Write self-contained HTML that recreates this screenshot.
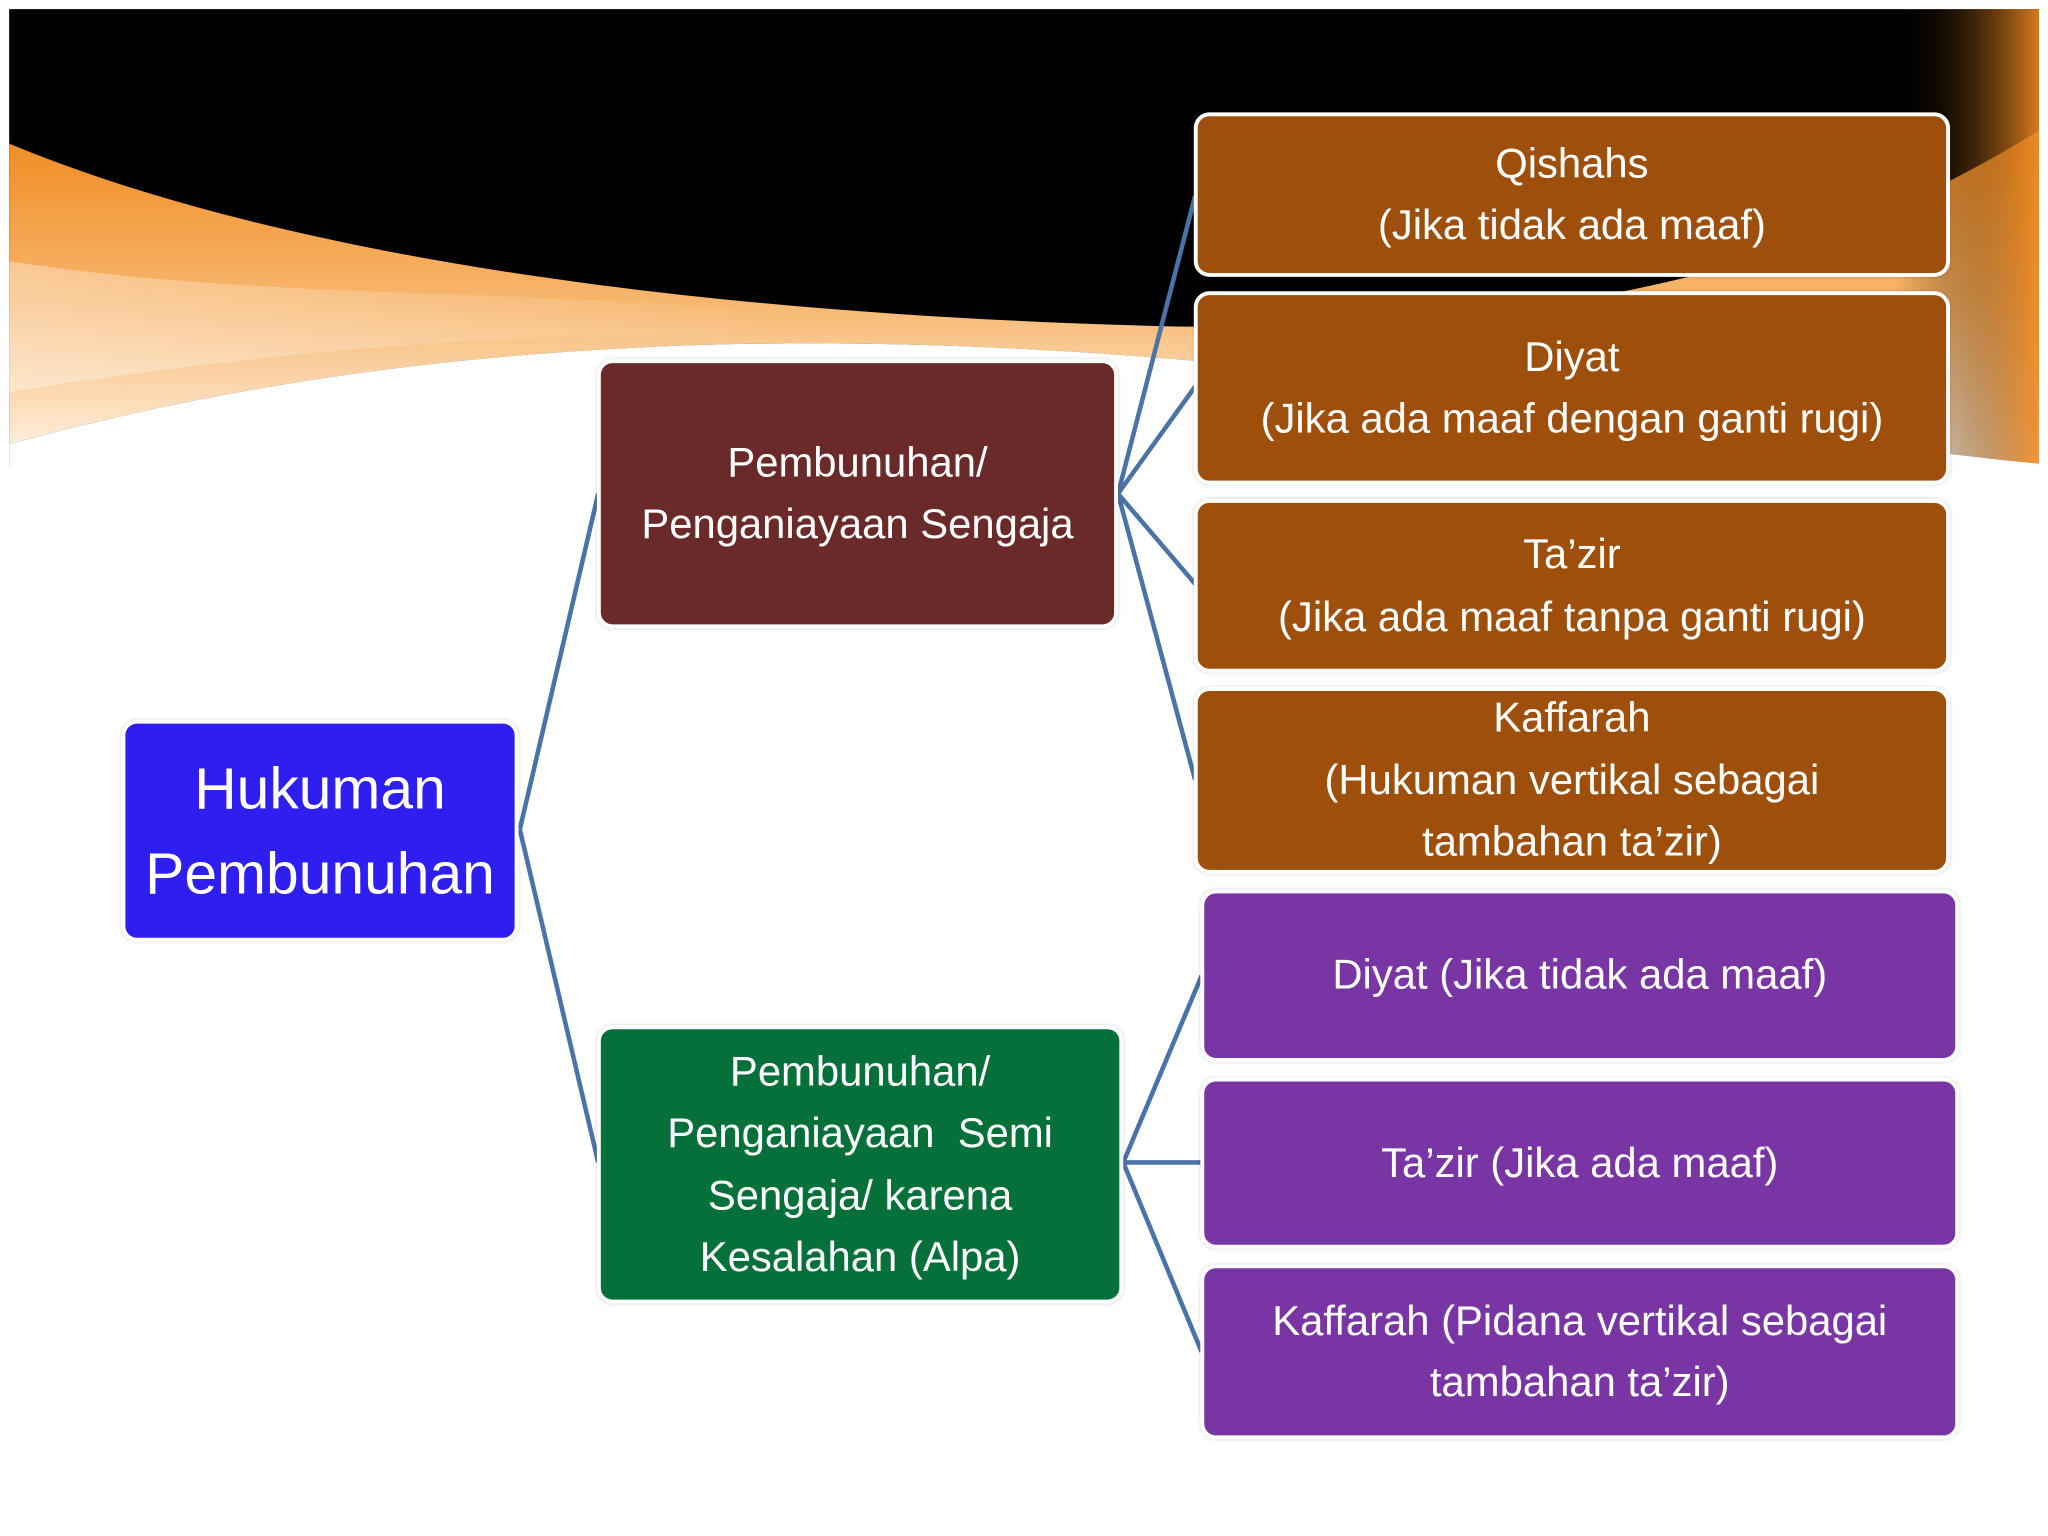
<!DOCTYPE html>
<html><head><meta charset="utf-8"><style>
html,body{margin:0;padding:0;background:#fff;}
#wrap{width:1568px;height:1176px;transform:scale(1.30612);transform-origin:0 0;position:relative;overflow:hidden;background:#fff;font-family:"Liberation Sans",sans-serif;}
.b{position:absolute;color:#fff;display:flex;align-items:center;justify-content:center;text-align:center;border-radius:12px;box-sizing:border-box;border:3px solid #fff;box-shadow:0 0 3px rgba(0,0,0,0.15);line-height:1.48;}
.o{background:#9e4f0c;font-size:32px;}
.p{background:#7a35a5;font-size:32px;}
</style></head><body><div id="wrap">
<svg width="1568" height="1176" style="position:absolute;left:0;top:0">
<defs>
<linearGradient id="g1" x1="0" y1="0" x2="0" y2="1">
<stop offset="0" stop-color="#f08a20"/><stop offset="0.5" stop-color="#f7b56b"/><stop offset="1" stop-color="#fff4e8"/></linearGradient>
<linearGradient id="g2" x1="0" y1="0" x2="1" y2="0">
<stop offset="0" stop-color="#000" stop-opacity="0"/><stop offset="0.7" stop-color="#000" stop-opacity="0"/><stop offset="1" stop-color="#f08a20"/></linearGradient>
<linearGradient id="g3" x1="0" y1="0" x2="1" y2="0">
<stop offset="0" stop-color="#fff"/><stop offset="1" stop-color="#fff" stop-opacity="0"/></linearGradient>
</defs>
<rect x="7" y="7" width="1554" height="350" fill="#000"/>
<path d="M7 110 C200 190 500 240 900 250 C1200 255 1400 200 1561 100 L1561 355 C1400 340 1200 300 900 275 C600 250 300 260 7 340 Z" fill="url(#g1)"/>
<path d="M1200 7 L1561 7 L1561 357 L1350 357 Z" fill="url(#g2)" opacity="0.9"/>
<path d="M7 340 C300 260 600 250 900 275 C1200 300 1400 340 1561 355 L1561 1176 L7 1176 Z" fill="#fff"/>
<path d="M7 200 C200 230 400 220 600 240 L600 260 C400 250 200 270 7 300Z" fill="url(#g3)" opacity="0.35"/>
<g stroke="#4a73a8" stroke-width="3.5" fill="none">
<path d="M398 635 L458 378 M398 635 L458 890"/>
<path d="M856 378 L915 150 M856 378 L915 296 M856 378 L915 447 M856 378 L915 597"/>
<path d="M860 890 L920 747 M860 890 L920 890 M860 890 L920 1035"/>
</g>
</svg>
<div class="b" style="left:93px;top:551px;width:304px;height:170px;background:#2e1ff0;font-size:45px;line-height:1.45">Hukuman<br>Pembunuhan</div>
<div class="b" style="left:457px;top:275px;width:399px;height:206px;background:#6b2a2a;font-size:32px">Pembunuhan/<br>Penganiayaan Sengaja</div>
<div class="b" style="left:457px;top:785px;width:403px;height:213px;background:#05703a;font-size:32px">Pembunuhan/<br>Penganiayaan&nbsp; Semi<br>Sengaja/ karena<br>Kesalahan (Alpa)</div>
<div class="b o" style="left:914px;top:86px;width:579px;height:126px">Qishahs<br>(Jika tidak ada maaf)</div>
<div class="b o" style="left:914px;top:223px;width:579px;height:148px">Diyat<br>(Jika ada maaf dengan ganti rugi)</div>
<div class="b o" style="left:914px;top:382px;width:579px;height:133px">Ta’zir<br>(Jika ada maaf tanpa ganti rugi)</div>
<div class="b o" style="left:914px;top:526px;width:579px;height:143px;line-height:1.48">Kaffarah<br>(Hukuman vertikal sebagai<br>tambahan ta’zir)</div>
<div class="b p" style="left:919px;top:681px;width:581px;height:132px">Diyat (Jika tidak ada maaf)</div>
<div class="b p" style="left:919px;top:825px;width:581px;height:131px">Ta’zir (Jika ada maaf)</div>
<div class="b p" style="left:919px;top:968px;width:581px;height:134px">Kaffarah (Pidana vertikal sebagai<br>tambahan ta’zir)</div>
</div></body></html>
